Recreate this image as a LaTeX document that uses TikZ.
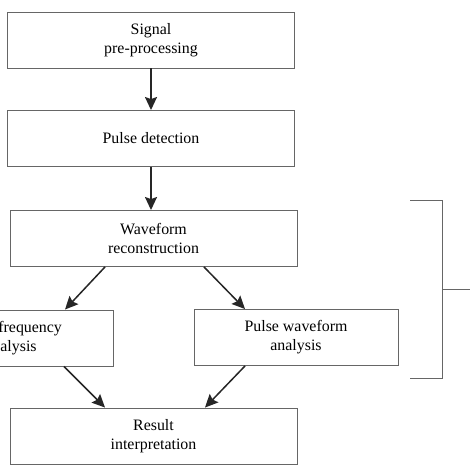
\documentclass[tikz,border=0pt]{standalone}
\usepackage{fontspec}
\setmainfont{Liberation Serif}
\usetikzlibrary{arrows.meta, positioning}

\begin{document}
\begin{tikzpicture}[
    x=1pt, y=1pt, on grid,
    >={Stealth[length=13pt,width=12pt,inset=2pt]},
    block/.style={draw=black!60, line width=0.9pt, minimum width=287pt,
      minimum height=56pt, align=center, inner sep=0pt,
      font=\fontsize{15.9}{19}\selectfont},
    halfblock/.style={block, minimum width=204pt},
    flow/.style={->, line width=1.8pt, black!85},
    branch/.style={flow, line width=1.5pt},
    bracket/.style={draw=black!60, line width=0.9pt}
  ]
  \useasboundingbox (0,0) rectangle (474,474);

  \node[block]     (pre)                                         at (151,434) {Signal\\pre-processing};
  \node[block]     (det) [below=98.5pt of pre]                   {Pulse detection};
  \node[block]     (rec) [below=100pt of det, xshift=2.5pt]      {Waveform\\reconstruction};
  \node[halfblock] (tf)  [below left=99.5pt and 142.5pt of rec]  {Time-frequency\\analysis};
  \node[halfblock] (pwa) [below right=99pt and 142.5pt of rec]   {Pulse waveform\\analysis};
  \node[block]     (res) [below=197.5pt of rec]                  {Result\\interpretation};

  \draw[flow] (pre) -- (det);
  \draw[flow] (det.south) -- (det.south |- rec.north);
  \draw[branch] ([xshift=-48.5pt]rec.south) -- ([xshift=54pt]tf.north);
  \draw[branch] ([xshift=50.5pt]rec.south) -- ([xshift=-51pt]pwa.north);
  \draw[branch] ([xshift=53pt]tf.south) -- ([xshift=-48.5pt]res.north);
  \draw[branch] ([xshift=-51pt]pwa.south) -- ([xshift=51.5pt]res.north);

  % bracket on the right
  \draw[bracket] (410,274) -| (442,96) -- (410,96);
  \draw[bracket] (442,185) -- (470,185);
\end{tikzpicture}
\end{document}
